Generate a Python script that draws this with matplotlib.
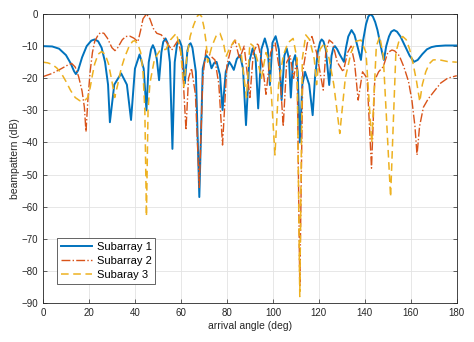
import matplotlib
matplotlib.use("Agg")
import matplotlib.pyplot as plt

plt.rcParams['font.family'] = ['Liberation Sans', 'DejaVu Sans']

# Subarray 1 (angle deg, beampattern dB)
ang1 = [0, 4, 7, 10, 12, 13.5, 14.3, 15.3, 17, 19, 21, 22.5, 24, 25.5, 27, 28.3, 29.1,
        31, 34, 36.5, 38.3, 40, 42, 43.8, 45, 46, 47, 47.8, 48.6, 49.5, 50.5, 51.5, 52.3,
        53.3, 54.2, 55.2, 56.3, 57.3, 58.3, 59.3, 60.3, 61.7, 62.8, 63.5, 64.2, 65, 66.5,
        68, 69.5, 70.9, 72.3, 73.3, 74.4, 75.5, 77, 78.1, 79.5, 81, 82, 83, 84.3, 85.7,
        87, 88.3, 89.7, 91.2, 92.5, 93.6, 95, 96.5, 97.8, 98.7, 99.8, 101.2, 102.6, 103.8,
        105, 106, 107, 107.8, 108.7, 109.7, 110.8, 111.7, 112.8, 114, 115.8, 117.3, 118.3,
        119.5, 120.5, 121.2, 122, 123, 124.5, 125.5, 126.3, 127, 128, 129, 130.9, 131.8,
        132.8, 134.2, 135.5, 136.6, 138.3, 139.3, 140.5, 141.5, 142.5, 143.5, 144.5, 145.5,
        146.5, 147.5, 148.3, 149.3, 150.5, 151.5, 152.7, 154, 155.5, 157.5, 159.5, 161.4,
        163, 165, 167, 169, 171, 175, 180]
db1 = [-10, -10.1, -10.8, -12.8, -15.3, -17.8, -18.7, -17.5, -13.5, -10, -8.3, -7.9,
       -8.5, -10.5, -15, -22, -33.7, -22, -18.5, -22, -33, -17, -12.6, -17, -30, -15, -11,
       -9.7, -11, -14, -20.6, -12, -8.7, -7.6, -9, -15, -42, -15, -9.5, -8.1, -10, -21.6,
       -11.5, -9.6, -9.1, -10.5, -18, -57, -17, -12.8, -14, -16.9, -15.3, -14.9, -19,
       -29.9, -18, -14.9, -16, -17.4, -14, -12.8, -17, -34.6, -15, -10.7, -14, -29.4, -11,
       -7.6, -11, -22.1, -9, -6.9, -11, -26.8, -13, -10.7, -14, -26, -15, -12.8, -18, -40,
       -22, -18, -22, -31.5, -20, -12, -8.8, -7.9, -8.5, -11, -22.1, -13, -10.5, -10, -11,
       -12.5, -14.9, -10.5, -7, -5, -6.5, -9.5, -14.3, -8, -3.2, -0.8, 0, -0.8, -2.5, -5,
       -8.5, -12, -14.3, -10, -7, -5.5, -5, -5.5, -7, -10, -13, -14.9, -14.3, -12.5, -11,
       -10.3, -10, -9.8, -9.8]

# Subarray 2
ang2 = [0, 4, 8, 11, 12.5, 14, 15.5, 17, 18, 18.7, 19.5, 20.5, 21.5, 22.5, 24, 25, 26.5,
        28, 30, 31.3, 32.5, 34.5, 36, 37.8, 39.5, 41.3, 42.5, 43.5, 45, 46.5, 48, 49.5,
        51.5, 54, 56, 58.8, 60.5, 62.2, 63.3, 64.6, 66.3, 68, 69.5, 70.9, 72.8, 74.8, 76.5,
        78.1, 80, 82, 83.5, 85.5, 87.5, 90, 91.5, 93.5, 95.5, 97, 99, 101, 103, 104.5, 106,
        107.5, 109, 110.5, 111.7, 113, 115, 117, 119, 121.9, 123, 124.5, 126, 128, 130.6,
        132.5, 134, 135.5, 137.1, 139, 141, 142.9, 144.3, 146, 148, 150, 151.8, 153, 155,
        157, 159, 160.5, 161.8, 162.7, 163.8, 165.5, 167.5, 170, 173, 176, 180]
db2 = [-19.5, -18.5, -17, -15.8, -15.4, -16.5, -19.5, -24, -29, -36.7, -27, -18, -12,
       -8.5, -6.5, -5.8, -6, -7.5, -10.5, -11.4, -10.5, -8, -7, -6.9, -7.5, -8.6, -5,
       -1.5, 0, -1.5, -4.5, -6, -6.5, -9, -11.2, -8.1, -14, -36.1, -20, -16.9, -25, -54,
       -20, -11.2, -13, -14.3, -22, -40.8, -16, -10, -8.1, -14, -10, -26, -12, -9, -16,
       -25, -12, -9, -18, -35, -15, -13, -20, -14, -85, -18, -9, -7, -12, -23.7, -12,
       -8.1, -9, -15, -18, -12, -10, -15, -26.8, -18, -20, -48, -20.6, -18, -16.4, -12,
       -11.2, -11.5, -13, -16.5, -21, -27, -35, -43.9, -35, -29, -26.5, -24.2, -21.5, -20,
       -19.2]

# Subaray 3
ang3 = [0, 2, 4, 6, 8, 10, 12, 14, 16, 18, 19.5, 20.5, 21.5, 22.5, 24, 25.5, 27, 28.5,
        30, 31.2, 32.5, 34, 35.5, 37.5, 39, 40, 41.3, 42.5, 43.5, 44.3, 45, 45.7, 46.5,
        48.5, 51, 53.5, 55.5, 58, 59.8, 61.2, 62.5, 64, 65.5, 67, 68, 69, 70, 71, 71.6,
        73.5, 75.5, 77, 78.5, 79.6, 81, 83, 84.6, 86, 87.5, 88.5, 90, 91.5, 93.5, 95, 97,
        98.5, 100.9, 102.5, 104.5, 106.5, 108.8, 110.5, 111.7, 112.8, 114.3, 116, 118, 119,
        120.5, 122.5, 124.5, 126.5, 129.1, 131.5, 134, 136, 138.3, 140.5, 143, 145, 146.5,
        148, 151.2, 153.5, 155, 156.5, 158, 159.5, 161, 162.5, 163.9, 165, 166.5, 168,
        169.7, 172, 176, 180]
db3 = [-15, -15.2, -15.7, -16.8, -18.5, -21, -23.8, -26, -27, -27, -26, -23, -19, -15.5,
       -12.5, -11.7, -12.5, -15.5, -21, -26, -22, -17, -13.5, -10, -8.5, -8.3, -9.5, -12,
       -18, -30, -63, -30, -21.6, -14, -11.2, -11, -8, -6, -11, -22.6, -14, -7, -3.5, -0.8,
       0, -0.8, -4, -9, -15, -10, -6.5, -6, -9, -13.3, -11, -8.5, -8.1, -11, -20, -26, -9.1,
       -10, -15, -20, -12, -15, -43.9, -22, -13, -9, -7.6, -14, -88, -14, -6.5, -8, -14,
       -22, -11, -9, -14, -22, -37.2, -20, -12, -8.5, -8.1, -12, -40, -10, -7, -13, -57,
       -12, -8, -7, -8, -11, -15.5, -21, -27.3, -22, -18, -15.5, -14.3, -14.2, -14.8, -15]

fig = plt.figure(figsize=(4.74, 3.42), dpi=100)
ax = fig.add_axes([0.0907, 0.114, 0.873, 0.845])

ax.plot(ang1, db1, color='#0072BD', lw=1.4, label='Subarray 1')
ax.plot(ang2, db2, color='#D95319', lw=1.0, ls='-.', label='Subarray 2')
ax.plot(ang3, db3, color='#EDB120', lw=1.1, ls='--', dashes=(5, 3), label='Subaray 3')

ax.set_xlim(0, 180)
ax.set_ylim(-90, 0)
ax.set_xticks(range(0, 181, 20))
ax.set_yticks(range(-90, 1, 10))
ax.grid(True, color='#e3e3e3', lw=0.6)
ax.set_axisbelow(True)
ax.tick_params(direction='in', length=3, labelsize=7, colors='#262626',
               top=True, right=True, width=0.5)
for s in ax.spines.values():
    s.set_color('#262626')
    s.set_linewidth(0.6)

ax.set_xlabel('arrival angle (deg)', fontsize=7.5, color='#262626', labelpad=2)
ax.set_ylabel('beampattern (dB)', fontsize=7.5, color='#262626', labelpad=1)

leg = ax.legend(loc='lower left', bbox_to_anchor=(0.034, 0.066), borderaxespad=0,
                fontsize=8, fancybox=False, framealpha=1, edgecolor='#262626',
                handlelength=2.8, borderpad=0.35, labelspacing=0.35, handletextpad=0.4)
leg.get_frame().set_linewidth(0.5)

fig.savefig('out.png', dpi=100)
